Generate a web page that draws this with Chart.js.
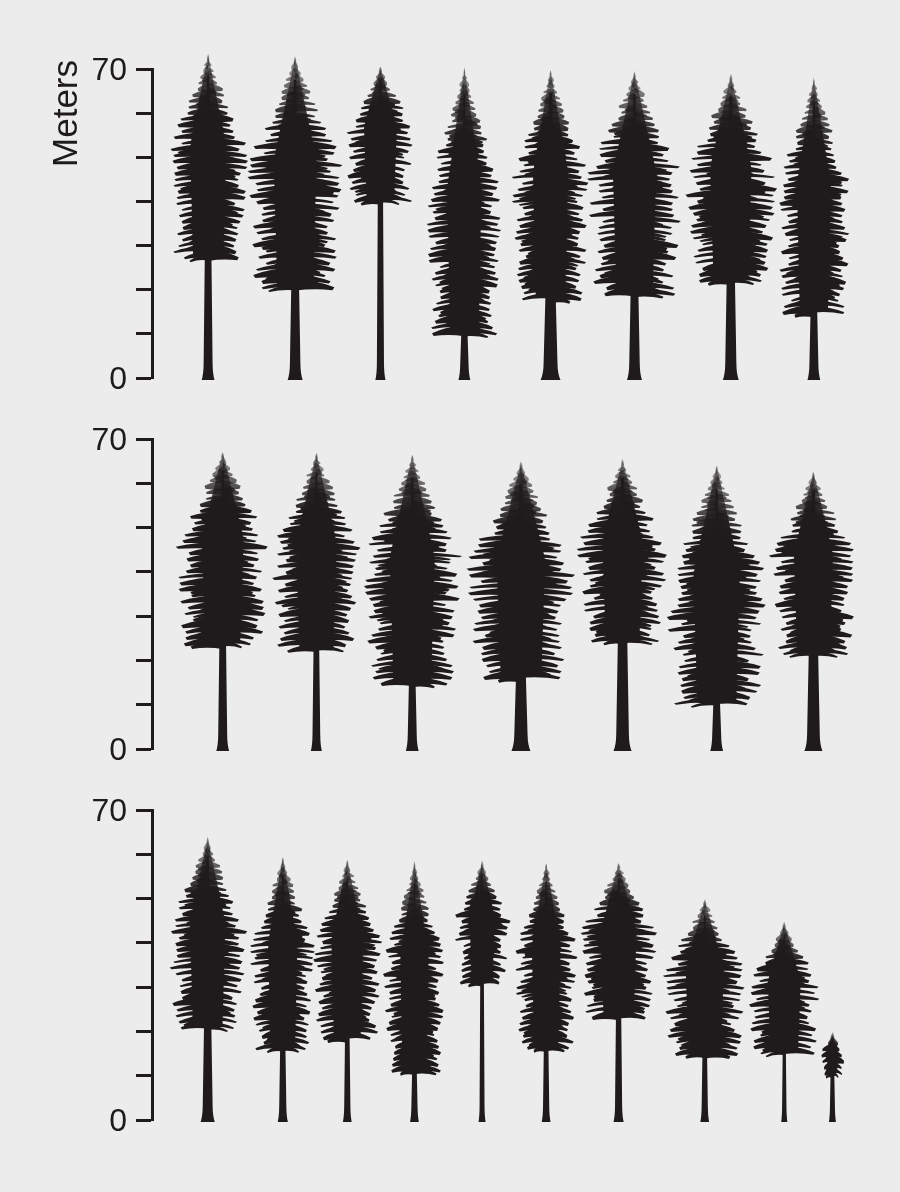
<!DOCTYPE html>
<html>
<head>
<meta charset="utf-8">
<script src="https://cdn.jsdelivr.net/npm/chart.js@4.4.1/dist/chart.umd.min.js"></script>
<style>
  html, body { margin: 0; padding: 0; background: #ececec; }
  .panel { position: absolute; left: 0; width: 900px; }
</style>
</head>
<body>
<div class="panel" style="top:0;height:412px"><canvas id="row1"></canvas></div>
<div class="panel" style="top:400px;height:382px"><canvas id="row2"></canvas></div>
<div class="panel" style="top:770px;height:422px"><canvas id="row3"></canvas></div>
<script>
// tree data, all in meters
// row 1
const row1X      = [12.7, 32.4, 51.7, 70.7, 90.2, 109.2, 131.0, 149.8];
const row1Height = [73.2, 72.7, 70.5, 70.2, 69.8, 69.3, 68.6, 67.9];
const row1Base   = [27.4, 20.6, 40.3, 10.2, 18.1, 19.2, 22.2, 15.0];
const row1Crown  = [18.1, 21.5, 16.5, 17.2, 17.7, 21.7, 20.8, 17.0];
const row1Trunk  = [2.9, 3.4, 2.3, 2.7, 4.5, 3.4, 3.6, 2.9];
// row 2
const row2X      = [16.0, 37.2, 58.9, 83.5, 106.5, 127.8, 149.7];
const row2Height = [67.0, 66.8, 66.4, 64.6, 65.3, 63.9, 62.5];
const row2Base   = [23.9, 22.3, 14.9, 16.3, 24.6, 10.4, 21.7];
const row2Crown  = [21.0, 20.3, 22.6, 24.4, 20.3, 23.3, 19.6];
const row2Trunk  = [2.9, 2.5, 2.9, 4.3, 4.1, 2.9, 4.1];
// row 3
const row3X      = [12.6, 29.6, 44.2, 59.4, 74.7, 89.2, 105.6, 125.1, 143.1, 154.0];
const row3Height = [63.7, 59.4, 58.7, 58.2, 58.2, 58.0, 58.0, 49.7, 44.5, 19.6];
const row3Base   = [21.0, 16.3, 18.7, 11.3, 31.2, 16.5, 23.3, 15.1, 15.3, 10.6];
const row3Crown  = [17.8, 14.7, 16.0, 14.2, 12.6, 14.4, 18.1, 19.2, 16.5, 5.6];
const row3Trunk  = [3.2, 2.3, 2.0, 2.0, 1.6, 2.0, 2.3, 2.0, 1.4, 1.6];

const yTicks = [0, 70]; // labelled ticks

const INK = '#1f1b1c';
const FONT = '"Liberation Sans", Arial, Helvetica, sans-serif';

// small deterministic jitter for branch texture
function jit(n) {
  const s = Math.sin(n * 127.1 + 311.7) * 43758.5453;
  return s - Math.floor(s);
}

// crown half-width profile, t = 0 at the tip, 1 at crown base
function prof(t) {
  return t < 0.45 ? t / 0.45 : 1 - (t - 0.45) * 0.3;
}

function branch(ctx, cx, yy, side, len, th, droop) {
  ctx.beginPath();
  ctx.moveTo(cx, yy - th * 1.3);
  ctx.quadraticCurveTo(cx + side * len * 0.6, yy - th * 0.9, cx + side * len, yy + droop - th * 0.2);
  ctx.lineTo(cx + side * len * 0.95, yy + droop + th * 0.6);
  ctx.quadraticCurveTo(cx + side * len * 0.5, yy + th * 1.1, cx, yy + th * 1.8);
  ctx.closePath();
  ctx.fill();
}

function drawTree(ctx, cx, yTop, yBase, yGround, halfW, trunkW, seed) {
  const L = yBase - yTop;
  ctx.save();

  // trunk
  ctx.fillStyle = INK;
  ctx.beginPath();
  ctx.moveTo(cx - trunkW * 0.5, yGround + 2);
  ctx.quadraticCurveTo(cx - trunkW * 0.36, yGround - 4, cx - trunkW * 0.35, yGround - 14);
  ctx.lineTo(cx - trunkW * 0.26, yBase);
  ctx.lineTo(cx - trunkW * 0.08, yTop + L * 0.1);
  ctx.lineTo(cx + trunkW * 0.08, yTop + L * 0.1);
  ctx.lineTo(cx + trunkW * 0.26, yBase);
  ctx.lineTo(cx + trunkW * 0.35, yGround - 14);
  ctx.quadraticCurveTo(cx + trunkW * 0.36, yGround - 4, cx + trunkW * 0.5, yGround + 2);
  ctx.closePath();
  ctx.fill();

  // crown: lighter at the tip
  const grad = ctx.createLinearGradient(0, yTop, 0, yTop + L * 0.3);
  grad.addColorStop(0, 'rgba(31,27,28,0.35)');
  grad.addColorStop(1, 'rgba(31,27,28,1)');
  ctx.fillStyle = grad;

  // dense core around the stem
  const steps = 24;
  ctx.beginPath();
  ctx.moveTo(cx, yTop);
  for (let k = 1; k <= steps; k++) {
    const t = k / steps;
    ctx.lineTo(cx - halfW * 0.45 * prof(t), yTop + t * L);
  }
  for (let k = steps; k >= 1; k--) {
    const t = k / steps;
    ctx.lineTo(cx + halfW * 0.45 * prof(t), yTop + t * L);
  }
  ctx.closePath();
  ctx.fill();

  // branch tiers
  const n = Math.max(4, Math.round(L / 6));
  for (let i = 0; i < n; i++) {
    const t = (i + 0.5) / n;
    const yy = yTop + t * L;
    for (const side of [-1, 1]) {
      const k = seed * 97 + i * 2 + (side > 0 ? 1 : 0);
      const len = halfW * prof(t) * (0.7 + 0.34 * jit(k));
      const th = 1.6 + 2.2 * jit(k + 0.37);
      const droop = 1 + 3 * t;
      branch(ctx, cx, yy, side, len, th, droop);
      // shorter spray under some tiers for a ragged edge
      if (jit(k + 0.71) > 0.45) {
        branch(ctx, cx, yy + 3, side, len * (0.55 + 0.3 * jit(k + 0.13)), th * 0.9, droop);
      }
    }
  }
  ctx.restore();
}

const treePlugin = {
  id: 'trees',
  afterDatasetsDraw(chart) {
    const { ctx, scales: { x, y } } = chart;
    const meta = chart.getDatasetMeta(0);
    const raw = chart.data.datasets[0].data;
    const yGround = y.getPixelForValue(0);
    meta.data.forEach((pt, i) => {
      const d = raw[i];
      const yBase = y.getPixelForValue(d.crownBase);
      const halfW = x.getPixelForValue(d.x + d.crown / 2) - pt.x;
      const trunkW = x.getPixelForValue(d.x + d.trunk) - pt.x;
      drawTree(ctx, pt.x, pt.y, yBase, yGround, halfW, trunkW, i + d.x);
    });
  }
};

const metersPlugin = {
  id: 'meters',
  afterDraw(chart) {
    const { ctx, chartArea } = chart;
    ctx.save();
    ctx.fillStyle = INK;
    ctx.font = '35px ' + FONT;
    ctx.translate(chartArea.left - 75, chartArea.top - 9);
    ctx.rotate(-Math.PI / 2);
    ctx.textAlign = 'right';
    ctx.textBaseline = 'alphabetic';
    ctx.fillText('Meters', 0, 0);
    ctx.restore();
  }
};

function makeRow(id, xs, hs, bases, crowns, trunks, padTop, padBottom, withTitle) {
  const pts = xs.map((x, i) => ({ x: x, y: hs[i], crownBase: bases[i], crown: crowns[i], trunk: trunks[i] }));
  return new Chart(document.getElementById(id), {
    type: 'scatter',
    data: { datasets: [{ data: pts, pointRadius: 0, pointHoverRadius: 0 }] },
    options: {
      responsive: true,
      maintainAspectRatio: false,
      animation: false,
      events: [],
      layout: { padding: { top: padTop, right: 30, bottom: padBottom, left: 0 } },
      plugins: { legend: { display: false }, tooltip: { enabled: false } },
      scales: {
        x: { type: 'linear', display: false, min: 0, max: 162.5 },
        y: {
          min: 0, max: 70,
          afterFit: s => { s.width = 152; },
          border: { display: true, color: INK, width: 3 },
          grid: { drawOnChartArea: false, drawTicks: true, tickLength: 16, tickWidth: 3, tickColor: INK },
          ticks: {
            stepSize: 10, padding: 9, labelOffset: 2, color: INK,
            font: { family: FONT, size: 32 },
            callback: v => yTicks.includes(v) ? String(v) : ''
          }
        }
      }
    },
    plugins: withTitle ? [treePlugin, metersPlugin] : [treePlugin]
  });
}

makeRow('row1', row1X, row1Height, row1Base, row1Crown, row1Trunk, 69, 34, true);
makeRow('row2', row2X, row2Height, row2Base, row2Crown, row2Trunk, 39, 33, false);
makeRow('row3', row3X, row3Height, row3Base, row3Crown, row3Trunk, 40, 72, false);
</script>
</body>
</html>
